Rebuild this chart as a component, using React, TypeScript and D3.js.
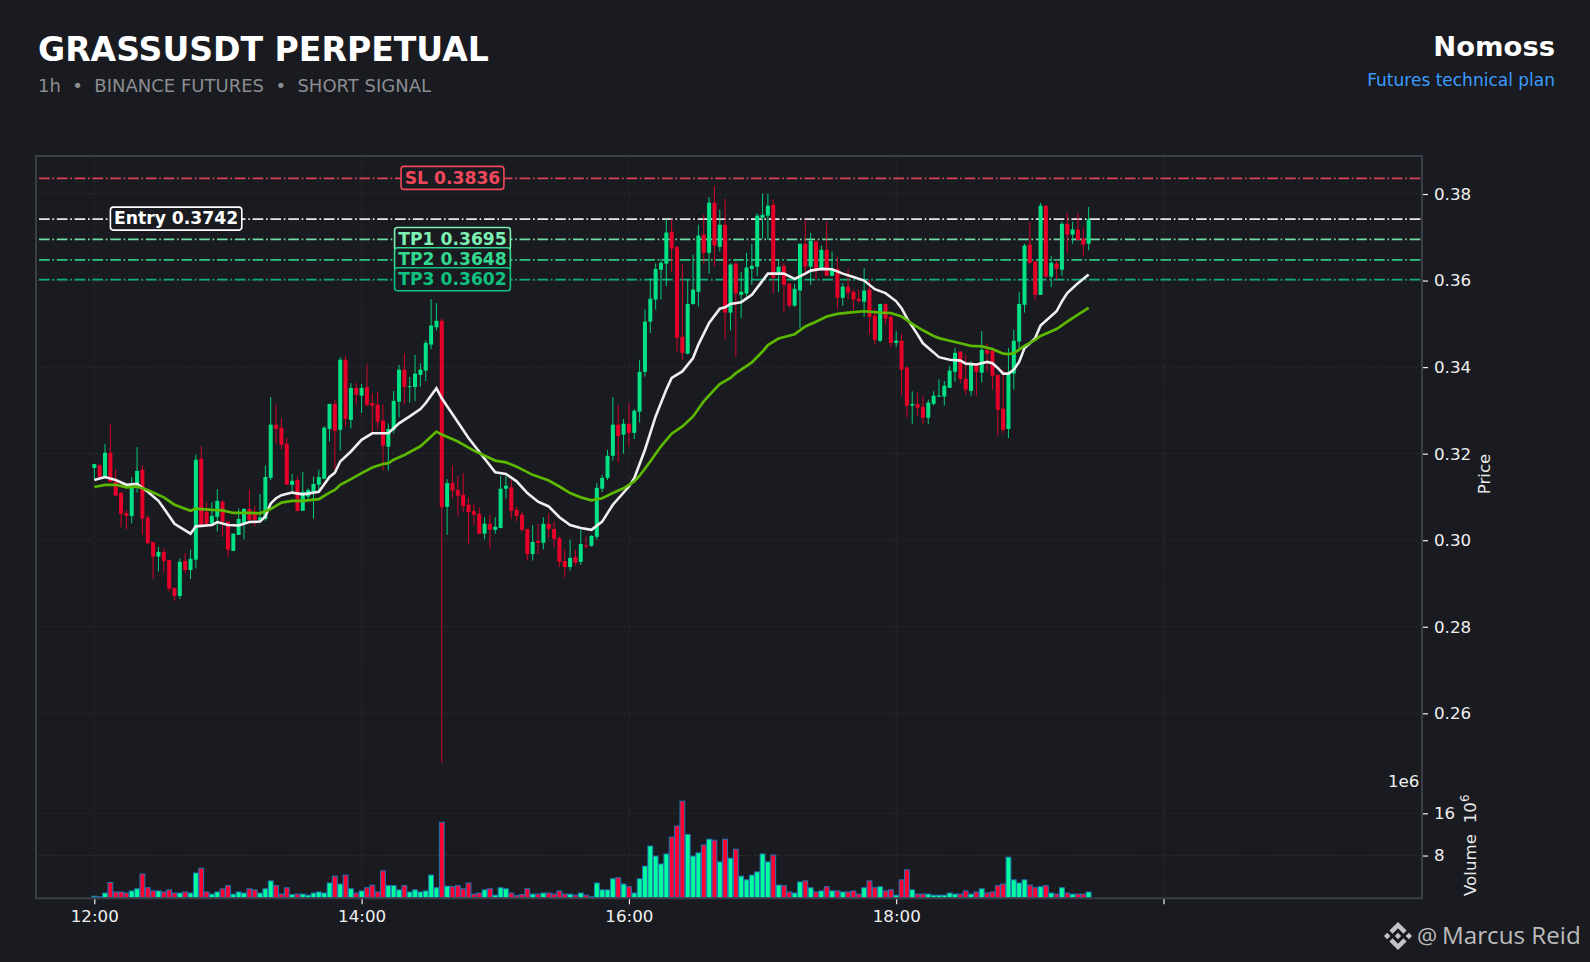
import { useEffect, useRef } from "react";
import * as d3 from "d3";

const opens = [
  0.3167, 0.3174, 0.3147, 0.3202, 0.3135, 0.3109, 0.3063, 0.3056, 0.3124, 0.3163,
  0.3052, 0.2996, 0.2962, 0.2973, 0.2954, 0.289, 0.2871, 0.2952, 0.2931, 0.2955,
  0.3188, 0.3066, 0.3038, 0.3054, 0.3089, 0.3043, 0.2975, 0.3012, 0.3039, 0.3072,
  0.3066, 0.3045, 0.3049, 0.3144, 0.3267, 0.326, 0.3223, 0.3128, 0.3139, 0.3068,
  0.3101, 0.3112, 0.3128, 0.3142, 0.3257, 0.3315, 0.3255, 0.3417, 0.3278, 0.3352,
  0.3334, 0.3354, 0.3317, 0.3313, 0.3276, 0.3216, 0.3255, 0.332, 0.3394, 0.3354,
  0.3354, 0.3382, 0.3392, 0.3452, 0.3492, 0.3507, 0.3077, 0.3132, 0.3116, 0.3105,
  0.3082, 0.3067, 0.3061, 0.3015, 0.3038, 0.3024, 0.3028, 0.3119, 0.3122, 0.307,
  0.3059, 0.3026, 0.2968, 0.2998, 0.2994, 0.3038, 0.3026, 0.3005, 0.2952, 0.2938,
  0.2961, 0.295, 0.2988, 0.2987, 0.3008, 0.3119, 0.3144, 0.3195, 0.3267, 0.3244,
  0.3269, 0.3248, 0.3297, 0.3389, 0.3505, 0.3556, 0.3625, 0.3639, 0.3713, 0.3678,
  0.347, 0.3431, 0.3546, 0.3574, 0.3706, 0.3664, 0.378, 0.3678, 0.3729, 0.3526,
  0.3639, 0.3567, 0.357, 0.3627, 0.3632, 0.3745, 0.375, 0.3775, 0.3618, 0.3634,
  0.3593, 0.3542, 0.3577, 0.3685, 0.3632, 0.369, 0.3627, 0.3671, 0.3611, 0.3627,
  0.356, 0.3586, 0.3574, 0.3558, 0.3551, 0.3579, 0.3519, 0.3461, 0.3546, 0.3516,
  0.3456, 0.3461, 0.3399, 0.3311, 0.3315, 0.3308, 0.3283, 0.3315, 0.3332, 0.3332,
  0.3352, 0.3389, 0.3436, 0.3373, 0.3345, 0.3405, 0.3387, 0.344, 0.3438, 0.3382,
  0.3304, 0.3257, 0.3385, 0.3459, 0.3544, 0.3683, 0.3644, 0.3567, 0.3773, 0.3609,
  0.3639, 0.3625, 0.3731, 0.3706, 0.3718, 0.3697, 0.3685,
];
const closes = [
  0.3176, 0.3146, 0.3202, 0.3135, 0.3103, 0.3061, 0.3056, 0.3124, 0.316, 0.305,
  0.2993, 0.2962, 0.2973, 0.2952, 0.2888, 0.2871, 0.295, 0.2931, 0.2957, 0.3186,
  0.3035, 0.3038, 0.3056, 0.3091, 0.3043, 0.2978, 0.3015, 0.3049, 0.3072, 0.3047,
  0.3047, 0.3053, 0.3146, 0.3267, 0.3257, 0.322, 0.3128, 0.3137, 0.3068, 0.3112,
  0.3116, 0.313, 0.3146, 0.326, 0.3315, 0.3253, 0.3417, 0.328, 0.3352, 0.3336,
  0.3352, 0.3313, 0.3311, 0.3274, 0.3218, 0.3257, 0.3322, 0.3394, 0.3354, 0.3356,
  0.3385, 0.3394, 0.3456, 0.3496, 0.3507, 0.3076, 0.3132, 0.3115, 0.3103, 0.3079,
  0.3065, 0.3059, 0.3015, 0.3038, 0.3024, 0.3031, 0.3119, 0.3126, 0.3068, 0.3056,
  0.3024, 0.2968, 0.2996, 0.2994, 0.3038, 0.3026, 0.3003, 0.295, 0.2938, 0.2959,
  0.2948, 0.2991, 0.2985, 0.301, 0.3121, 0.3144, 0.3195, 0.3267, 0.3241, 0.3269,
  0.3248, 0.3299, 0.3389, 0.3505, 0.3558, 0.3627, 0.3641, 0.3711, 0.3674, 0.3468,
  0.3433, 0.3546, 0.3579, 0.3704, 0.3664, 0.378, 0.3681, 0.3729, 0.3526, 0.3637,
  0.357, 0.3574, 0.363, 0.3634, 0.375, 0.3752, 0.3773, 0.3607, 0.3632, 0.359,
  0.3542, 0.3581, 0.3685, 0.3632, 0.3692, 0.3627, 0.3671, 0.3611, 0.3627, 0.356,
  0.3586, 0.3572, 0.3556, 0.3553, 0.3577, 0.3516, 0.3463, 0.3546, 0.3512, 0.3456,
  0.3461, 0.3394, 0.3311, 0.3315, 0.3306, 0.3283, 0.3318, 0.3334, 0.3334, 0.3357,
  0.3392, 0.3433, 0.3373, 0.3348, 0.3405, 0.3389, 0.344, 0.3431, 0.338, 0.3301,
  0.3255, 0.3386, 0.3461, 0.3546, 0.3681, 0.3641, 0.3567, 0.3773, 0.3609, 0.3641,
  0.3627, 0.3731, 0.3706, 0.3718, 0.3694, 0.3683, 0.3741,
];
const highs = [
  0.3176, 0.3174, 0.3223, 0.3269, 0.3164, 0.3112, 0.307, 0.3146, 0.3215, 0.3173,
  0.3058, 0.2996, 0.2984, 0.2981, 0.2954, 0.289, 0.2958, 0.297, 0.2978, 0.3197,
  0.3217, 0.3087, 0.3088, 0.3118, 0.3093, 0.3043, 0.3016, 0.3074, 0.3074, 0.3118,
  0.308, 0.3107, 0.3173, 0.3331, 0.3313, 0.3282, 0.3236, 0.3153, 0.3147, 0.3158,
  0.312, 0.3147, 0.3163, 0.3263, 0.3315, 0.3324, 0.3423, 0.3426, 0.3363, 0.3363,
  0.3361, 0.3407, 0.334, 0.3343, 0.3313, 0.327, 0.3345, 0.3405, 0.3432, 0.3377,
  0.3428, 0.3409, 0.3462, 0.3557, 0.3548, 0.3513, 0.3141, 0.3173, 0.3149, 0.3155,
  0.3098, 0.3085, 0.3076, 0.3053, 0.306, 0.3053, 0.3149, 0.3149, 0.3139, 0.3078,
  0.3066, 0.3026, 0.3035, 0.3038, 0.3053, 0.3062, 0.3043, 0.3008, 0.2979, 0.3001,
  0.2978, 0.3024, 0.3008, 0.3012, 0.3132, 0.3151, 0.3209, 0.3331, 0.3312, 0.328,
  0.3317, 0.3303, 0.3417, 0.3533, 0.3606, 0.364, 0.365, 0.3742, 0.3742, 0.3678,
  0.3637, 0.3602, 0.366, 0.3729, 0.3752, 0.3793, 0.3819, 0.3764, 0.3789, 0.364,
  0.3644, 0.362, 0.3664, 0.3685, 0.3755, 0.3801, 0.3801, 0.3787, 0.3648, 0.364,
  0.3593, 0.3593, 0.3685, 0.3741, 0.371, 0.3693, 0.3681, 0.3736, 0.3667, 0.3654,
  0.3594, 0.3627, 0.3579, 0.3579, 0.3629, 0.3602, 0.3534, 0.3546, 0.3546, 0.352,
  0.3483, 0.3477, 0.3402, 0.3344, 0.3341, 0.3334, 0.3325, 0.3344, 0.3372, 0.3368,
  0.3403, 0.3444, 0.3436, 0.3428, 0.3413, 0.3409, 0.3483, 0.3454, 0.344, 0.3382,
  0.3394, 0.3444, 0.3486, 0.3574, 0.3685, 0.3736, 0.3644, 0.3779, 0.3773, 0.3657,
  0.3648, 0.3736, 0.3756, 0.3736, 0.3756, 0.3721, 0.377,
];
const lows = [
  0.3139, 0.3139, 0.3143, 0.3135, 0.3103, 0.303, 0.3025, 0.3039, 0.311, 0.3012,
  0.2991, 0.291, 0.2928, 0.2925, 0.2881, 0.286, 0.2864, 0.2924, 0.291, 0.2935,
  0.3032, 0.3032, 0.3035, 0.302, 0.3008, 0.2961, 0.2975, 0.3012, 0.3002, 0.3043,
  0.3032, 0.3045, 0.3045, 0.3139, 0.3223, 0.3209, 0.3128, 0.3109, 0.3066, 0.3068,
  0.3089, 0.305, 0.3112, 0.3142, 0.3228, 0.3163, 0.3207, 0.3263, 0.3258, 0.3313,
  0.3294, 0.3309, 0.3247, 0.3257, 0.3161, 0.3161, 0.3247, 0.3284, 0.3314, 0.3318,
  0.3321, 0.3355, 0.3368, 0.3442, 0.3485, 0.2485, 0.3012, 0.3096, 0.3056, 0.3065,
  0.299, 0.3035, 0.3015, 0.3002, 0.2981, 0.3015, 0.3028, 0.3096, 0.3049, 0.3044,
  0.3019, 0.2953, 0.2953, 0.2968, 0.2979, 0.3005, 0.2984, 0.2938, 0.2914, 0.293,
  0.2941, 0.2943, 0.2981, 0.2985, 0.3001, 0.3111, 0.3139, 0.3184, 0.318, 0.32,
  0.3217, 0.3234, 0.3272, 0.3378, 0.3479, 0.3533, 0.3556, 0.3587, 0.3621, 0.3436,
  0.3417, 0.3429, 0.3544, 0.354, 0.364, 0.3616, 0.3633, 0.3667, 0.3463, 0.3485,
  0.3423, 0.3513, 0.3563, 0.359, 0.361, 0.3697, 0.3694, 0.357, 0.3573, 0.3526,
  0.3536, 0.3539, 0.349, 0.3614, 0.359, 0.3602, 0.3625, 0.3611, 0.361, 0.3534,
  0.3542, 0.3557, 0.3533, 0.3548, 0.3516, 0.3476, 0.3452, 0.3457, 0.3498, 0.3446,
  0.3446, 0.3334, 0.3284, 0.3269, 0.3288, 0.3269, 0.3268, 0.3311, 0.3332, 0.3311,
  0.3352, 0.3366, 0.3363, 0.3336, 0.3334, 0.3332, 0.3365, 0.3388, 0.3348, 0.324,
  0.3247, 0.3236, 0.3348, 0.3436, 0.3526, 0.3637, 0.3554, 0.3567, 0.3606, 0.3585,
  0.3602, 0.3611, 0.3664, 0.3685, 0.3693, 0.3656, 0.367,
];
const volumes = [
  0.3, 0.2, 0.9, 2.9, 1.1, 1.1, 0.9, 1.3, 1.7, 4.5,
  1.9, 1.3, 1.3, 1.1, 1.5, 0.9, 0.9, 1.1, 0.9, 4.7,
  5.6, 1.1, 0.7, 1.1, 1.7, 2.3, 0.7, 1.1, 0.9, 1.7,
  1.5, 0.9, 1.7, 3.2, 2.3, 0.7, 1.9, 0.6, 0.7, 0.7,
  0.5, 0.9, 1.1, 0.9, 2.8, 4.1, 2.6, 4.3, 1.7, 0.9,
  1.3, 1.9, 2.4, 1.1, 5.1, 2.3, 2.3, 1.5, 2.3, 1.1,
  1.5, 1.1, 1.3, 4.3, 1.9, 14.3, 2.2, 2.1, 2.3, 1.7,
  2.8, 0.7, 0.9, 1.5, 1.7, 0.5, 1.9, 1.7, 0.9, 0.4,
  0.6, 1.7, 0.7, 0.7, 0.9, 0.9, 0.7, 1.3, 0.7, 0.7,
  0.5, 0.9, 0.5, 0.2, 2.8, 1.5, 1.5, 3.6, 3.8, 2.6,
  2.1, 0.9, 3.6, 6, 9.8, 7.9, 6.4, 8.3, 11.5, 13.6,
  18.3, 12, 7.9, 8.5, 10, 11.1, 10.9, 6.8, 11.1, 7.5,
  9.2, 4.1, 3.4, 4.3, 4.9, 8.3, 6.8, 8.1, 2.4, 2.3,
  1.1, 0.9, 3, 3.2, 1.9, 1.1, 1.3, 2.1, 1.3, 1.3,
  1.1, 1.1, 1.3, 0.7, 1.9, 3.2, 1.9, 2.1, 1.3, 1.5,
  0.5, 3.4, 5.3, 1.5, 0.7, 0.7, 0.7, 0.5, 0.5, 0.5,
  0.9, 0.7, 0.7, 1.3, 0.7, 1.1, 1.7, 0.9, 1.1, 2.3,
  2.6, 7.7, 3.4, 2.8, 3.4, 2.4, 1.9, 2.1, 2.3, 0.9,
  0.7, 1.9, 0.9, 0.7, 0.7, 0.7, 1.1,
];

// moving averages at the bars where they bend
const fastBars = [0, 2, 4, 6, 8, 10, 12, 13, 15, 18, 19, 22, 23, 25, 27, 29, 31, 32, 33, 34, 35, 37, 39, 42, 44, 45, 46, 48, 50, 52, 54, 55, 57, 59, 61, 62, 64, 65, 70, 75, 77, 79, 81, 83, 85, 87, 89, 91, 93, 95, 97, 100, 101, 103, 105, 107, 108, 110, 112, 113, 115, 117, 118, 119, 121, 123, 126, 128, 129, 131, 133, 134, 136, 138, 140, 142, 144, 146, 148, 150, 151, 152, 154, 155, 157, 158, 160, 162, 163, 165, 167, 168, 169, 170, 171, 172, 173, 174, 175, 176, 177, 180, 181, 182, 184, 186];
const fastValues = [0.3139, 0.3146, 0.3139, 0.3128, 0.313, 0.3112, 0.3091, 0.3074, 0.3038, 0.3015, 0.3032, 0.3035, 0.3042, 0.3035, 0.3034, 0.3042, 0.3043, 0.3055, 0.3085, 0.3097, 0.3104, 0.311, 0.3106, 0.3112, 0.3146, 0.3156, 0.3182, 0.3205, 0.3232, 0.3247, 0.3247, 0.3247, 0.327, 0.3286, 0.3303, 0.3317, 0.3351, 0.3328, 0.3236, 0.3157, 0.3153, 0.3136, 0.3109, 0.3089, 0.3078, 0.3053, 0.3035, 0.3028, 0.3024, 0.3043, 0.3082, 0.3124, 0.3143, 0.3209, 0.3286, 0.3348, 0.3375, 0.339, 0.3421, 0.3452, 0.3502, 0.3535, 0.3538, 0.3546, 0.355, 0.3567, 0.3616, 0.3616, 0.3616, 0.3604, 0.3616, 0.3623, 0.3627, 0.3626, 0.3616, 0.3608, 0.36, 0.358, 0.3571, 0.3552, 0.3536, 0.3513, 0.3475, 0.3455, 0.3434, 0.3423, 0.3417, 0.3415, 0.3408, 0.3406, 0.3412, 0.3409, 0.3398, 0.3385, 0.3385, 0.3394, 0.3412, 0.3444, 0.3455, 0.3467, 0.3496, 0.3529, 0.3552, 0.3571, 0.3594, 0.3614];
const slowBars = [0, 2, 4, 6, 8, 10, 13, 15, 18, 19, 22, 24, 26, 29, 31, 33, 35, 37, 39, 42, 44, 45, 46, 48, 50, 52, 54, 55, 56, 58, 61, 62, 64, 65, 68, 71, 75, 77, 79, 82, 85, 87, 89, 91, 93, 95, 97, 99, 101, 102, 104, 106, 108, 110, 112, 114, 116, 117, 119, 120, 121, 123, 125, 126, 128, 131, 133, 135, 137, 139, 142, 144, 147, 149, 151, 153, 155, 157, 158, 160, 162, 164, 166, 168, 170, 171, 172, 174, 176, 177, 180, 182, 184, 186];
const slowValues = [0.3123, 0.3128, 0.3128, 0.3122, 0.3124, 0.3116, 0.3099, 0.3082, 0.3068, 0.3073, 0.307, 0.3069, 0.3063, 0.3063, 0.3062, 0.3072, 0.3087, 0.3091, 0.3091, 0.3095, 0.311, 0.3116, 0.3128, 0.3141, 0.3155, 0.3168, 0.3176, 0.3178, 0.3186, 0.3197, 0.3217, 0.3228, 0.3251, 0.3244, 0.3228, 0.3207, 0.3184, 0.318, 0.317, 0.3151, 0.3138, 0.3124, 0.3109, 0.3099, 0.3092, 0.3097, 0.3109, 0.312, 0.3136, 0.3149, 0.3182, 0.3217, 0.3246, 0.3263, 0.3286, 0.3321, 0.3348, 0.3361, 0.3375, 0.3386, 0.3394, 0.3411, 0.3436, 0.3451, 0.3466, 0.3476, 0.3494, 0.3505, 0.3517, 0.3523, 0.3527, 0.3529, 0.3526, 0.3525, 0.3517, 0.35, 0.3485, 0.3472, 0.3467, 0.3461, 0.3455, 0.3449, 0.3448, 0.3442, 0.3431, 0.343, 0.3432, 0.3449, 0.3463, 0.3472, 0.3488, 0.3505, 0.3521, 0.3537];

const priceTicks = [0.26, 0.28, 0.3, 0.32, 0.34, 0.36, 0.38];
const volumeTicks = [8, 16];
const timeBars = [0, 50, 100, 150, 200];
const timeLabels = ["12:00", "14:00", "16:00", "18:00", ""];

const levelNames = ["SL", "Entry", "TP1", "TP2", "TP3"];
const levelValues = [0.3836, 0.3742, 0.3695, 0.3648, 0.3602];
const levelBars = [67, 15.3, 67, 67, 67];
const levelColors = ["#f0475c", "#ffffff", "#7df0b2", "#34d88f", "#10c07f"];

const BG = "#191b20";
const FRAME = "#3b3e46";
const GRID = "#27292e";
const UP = "#00e084";
const DOWN = "#e60029";
const VOL_UP = "#00ff9d";
const VOL_DOWN = "#ff0033";
const FONT = "'DejaVu Sans', sans-serif";
const TICK_SIZE = 16.7;

export default function App() {
  const svgRef = useRef<SVGSVGElement>(null);

  useEffect(() => {
    const svg = d3.select(svgRef.current);
    svg.selectAll("*").remove();

    const left = 36;
    const right = 1422;
    const top = 156;
    const bottom = 898.3;

    svg.append("rect").attr("width", 1590).attr("height", 962).attr("fill", BG);

    // bar index -> px, price -> px, volume (millions) -> px
    const x = d3.scaleLinear().domain([0, 200]).range([94.3, 1163.5]);
    const y = d3.scaleLinear().domain([0.26, 0.38]).range([713.3, 194]);
    const v = d3.scaleLinear().domain([0, 16]).range([897.8, 813.3]);

    // Grid
    const grid = svg.append("g").attr("stroke", GRID).attr("stroke-width", 1).attr("stroke-dasharray", "5 2.4");
    timeBars.forEach((b) => {
      grid.append("line").attr("x1", x(b)).attr("x2", x(b)).attr("y1", top).attr("y2", bottom);
    });
    priceTicks.forEach((p) => {
      grid.append("line").attr("x1", left).attr("x2", right).attr("y1", y(p)).attr("y2", y(p));
    });
    volumeTicks.forEach((t) => {
      grid.append("line").attr("x1", left).attr("x2", right).attr("y1", v(t)).attr("y2", v(t));
    });

    // Level lines sit under the candles
    levelValues.forEach((p, i) => {
      svg.append("line")
        .attr("x1", 39)
        .attr("x2", right)
        .attr("y1", y(p))
        .attr("y2", y(p))
        .attr("stroke", levelColors[i])
        .attr("stroke-opacity", 0.9)
        .attr("stroke-width", 1.8)
        .attr("stroke-dasharray", "10.7 2.7 1.7 2.7");
    });

    // Candles
    const candles = svg.append("g");
    opens.forEach((o, i) => {
      const c = closes[i];
      const color = c >= o ? UP : DOWN;
      candles.append("line")
        .attr("x1", x(i))
        .attr("x2", x(i))
        .attr("y1", y(highs[i]))
        .attr("y2", y(lows[i]))
        .attr("stroke", color)
        .attr("stroke-width", 0.9);
      candles.append("rect")
        .attr("x", x(i) - 2)
        .attr("width", 4)
        .attr("y", y(Math.max(o, c)))
        .attr("height", Math.max(1, Math.abs(y(o) - y(c))))
        .attr("fill", color);
    });

    // Moving averages
    const fastLine = d3.line<number>().x((b) => x(b)).y((_, i) => y(fastValues[i]));
    const slowLine = d3.line<number>().x((b) => x(b)).y((_, i) => y(slowValues[i]));
    svg.append("path").attr("d", fastLine(fastBars)).attr("fill", "none").attr("stroke", "#f0f0f0").attr("stroke-width", 2.6);
    svg.append("path").attr("d", slowLine(slowBars)).attr("fill", "none").attr("stroke", "#5cb800").attr("stroke-width", 2.7);

    // Volume
    const volG = svg.append("g");
    volumes.forEach((val, i) => {
      volG.append("rect")
        .attr("x", x(i) - 2.4)
        .attr("width", 4.8)
        .attr("y", v(val))
        .attr("height", v(0) - v(val))
        .attr("fill", closes[i] >= opens[i] ? VOL_UP : VOL_DOWN)
        .attr("stroke", "#1f77b4")
        .attr("stroke-width", 1);
    });

    // Frame
    svg.append("rect")
      .attr("x", left)
      .attr("y", top)
      .attr("width", right - left)
      .attr("height", bottom - top)
      .attr("fill", "none")
      .attr("stroke", FRAME)
      .attr("stroke-width", 2);

    // Axes
    const styleAxis = (g: d3.Selection<SVGGElement, unknown, null, undefined>) => {
      g.select(".domain").remove();
      g.selectAll("line").attr("stroke", "#f0f0f0").attr("stroke-width", 1.2);
      g.selectAll("text").attr("fill", "#f0f0f0").attr("font-size", TICK_SIZE).attr("font-family", FONT);
    };
    svg.append("g")
      .attr("transform", `translate(${right + 1},0)`)
      .call(d3.axisRight(y).tickValues(priceTicks).tickFormat(d3.format(".2f") as any).tickSize(5).tickPadding(6) as any)
      .call(styleAxis as any);
    svg.append("g")
      .attr("transform", `translate(${right + 1},0)`)
      .call(d3.axisRight(v).tickValues(volumeTicks).tickFormat(d3.format("d") as any).tickSize(5).tickPadding(6) as any)
      .call(styleAxis as any);
    svg.append("g")
      .attr("transform", `translate(0,${bottom + 1})`)
      .call(d3.axisBottom(x).tickValues(timeBars).tickFormat((_, i) => timeLabels[i]).tickSize(5).tickPadding(5.5) as any)
      .call(styleAxis as any);

    svg.append("text").attr("x", 1419.5).attr("y", 787).attr("text-anchor", "end")
      .attr("fill", "#f0f0f0").attr("font-size", TICK_SIZE).attr("font-family", FONT).text("1e6");

    svg.append("text")
      .attr("transform", "translate(1490,474) rotate(-90)")
      .attr("text-anchor", "middle")
      .attr("fill", "#e8e8e8")
      .attr("font-size", TICK_SIZE)
      .attr("font-family", FONT)
      .text("Price");

    const volLabel = svg.append("text")
      .attr("transform", "translate(1476,896) rotate(-90)")
      .attr("fill", "#e8e8e8")
      .attr("font-size", TICK_SIZE)
      .attr("font-family", FONT);
    volLabel.append("tspan").text("Volume\u00a0\u00a010");
    volLabel.append("tspan").attr("dy", -7).attr("font-size", 12).text("6");

    // Level labels
    levelValues.forEach((p, i) => {
      const cx = x(levelBars[i]);
      const g = svg.append("g");
      const rect = g.append("rect");
      const text = g.append("text")
        .attr("x", cx)
        .attr("y", y(p) + 5.4)
        .attr("text-anchor", "middle")
        .attr("font-family", FONT)
        .attr("font-weight", "bold")
        .attr("font-size", 17.2)
        .attr("fill", levelColors[i])
        .text(`${levelNames[i]} ${p.toFixed(4)}`);
      const w = (text.node() as SVGTextElement).getBBox().width;
      rect.attr("x", cx - w / 2 - 3.6)
        .attr("y", y(p) - 12)
        .attr("width", w + 7.2)
        .attr("height", 23)
        .attr("rx", 3)
        .attr("fill", BG)
        .attr("stroke", levelColors[i])
        .attr("stroke-width", 1.6);
    });

    // Header
    svg.append("text").attr("x", 38).attr("y", 61)
      .attr("fill", "#ffffff").attr("font-family", FONT).attr("font-weight", "bold").attr("font-size", 33.1)
      .text("GRASSUSDT PERPETUAL");
    svg.append("text").attr("x", 38).attr("y", 92)
      .attr("fill", "#8b8d92").attr("font-family", FONT).attr("font-size", 18)
      .text("1h\u00a0\u00a0•\u00a0\u00a0BINANCE FUTURES\u00a0\u00a0•\u00a0\u00a0SHORT SIGNAL");
    svg.append("text").attr("x", 1555).attr("y", 56).attr("text-anchor", "end")
      .attr("fill", "#ffffff").attr("font-family", FONT).attr("font-weight", "bold").attr("font-size", 27.4)
      .text("Nomoss");
    svg.append("text").attr("x", 1555).attr("y", 86).attr("text-anchor", "end")
      .attr("fill", "#3b9cff").attr("font-family", FONT).attr("font-size", 17)
      .text("Futures technical plan");

    // Watermark
    const logo = svg.append("g").attr("transform", "translate(1384,922) scale(0.875)").attr("fill", "#c4c4c4");
    logo.append("path").attr("d", "M9.79 13.45 16 7.24l6.21 6.21 3.62-3.62L16 0 6.17 9.83z");
    logo.append("path").attr("d", "M0 16l3.62-3.62L7.24 16l-3.62 3.62z");
    logo.append("path").attr("d", "M9.79 18.55 16 24.76l6.21-6.21 3.62 3.61L16 32l-9.83-9.83z");
    logo.append("path").attr("d", "M24.76 16l3.62-3.62L32 16l-3.62 3.62z");
    logo.append("path").attr("d", "M19.67 16 16 12.33 12.33 16 16 19.67z");
    svg.append("text").attr("x", 1417).attr("y", 944)
      .attr("fill", "#bdbdbd").attr("font-family", "'Open Sans', sans-serif").attr("font-size", 22.5)
      .text("@");
    svg.append("text").attr("x", 1442).attr("y", 944)
      .attr("fill", "#bdbdbd").attr("font-family", "'Open Sans', sans-serif").attr("font-size", 24.2)
      .text("Marcus Reid");
  }, []);

  return (
    <svg
      ref={svgRef}
      width={1590}
      height={962}
      style={{ position: "absolute", left: 0, top: 0, display: "block" }}
    />
  );
}
